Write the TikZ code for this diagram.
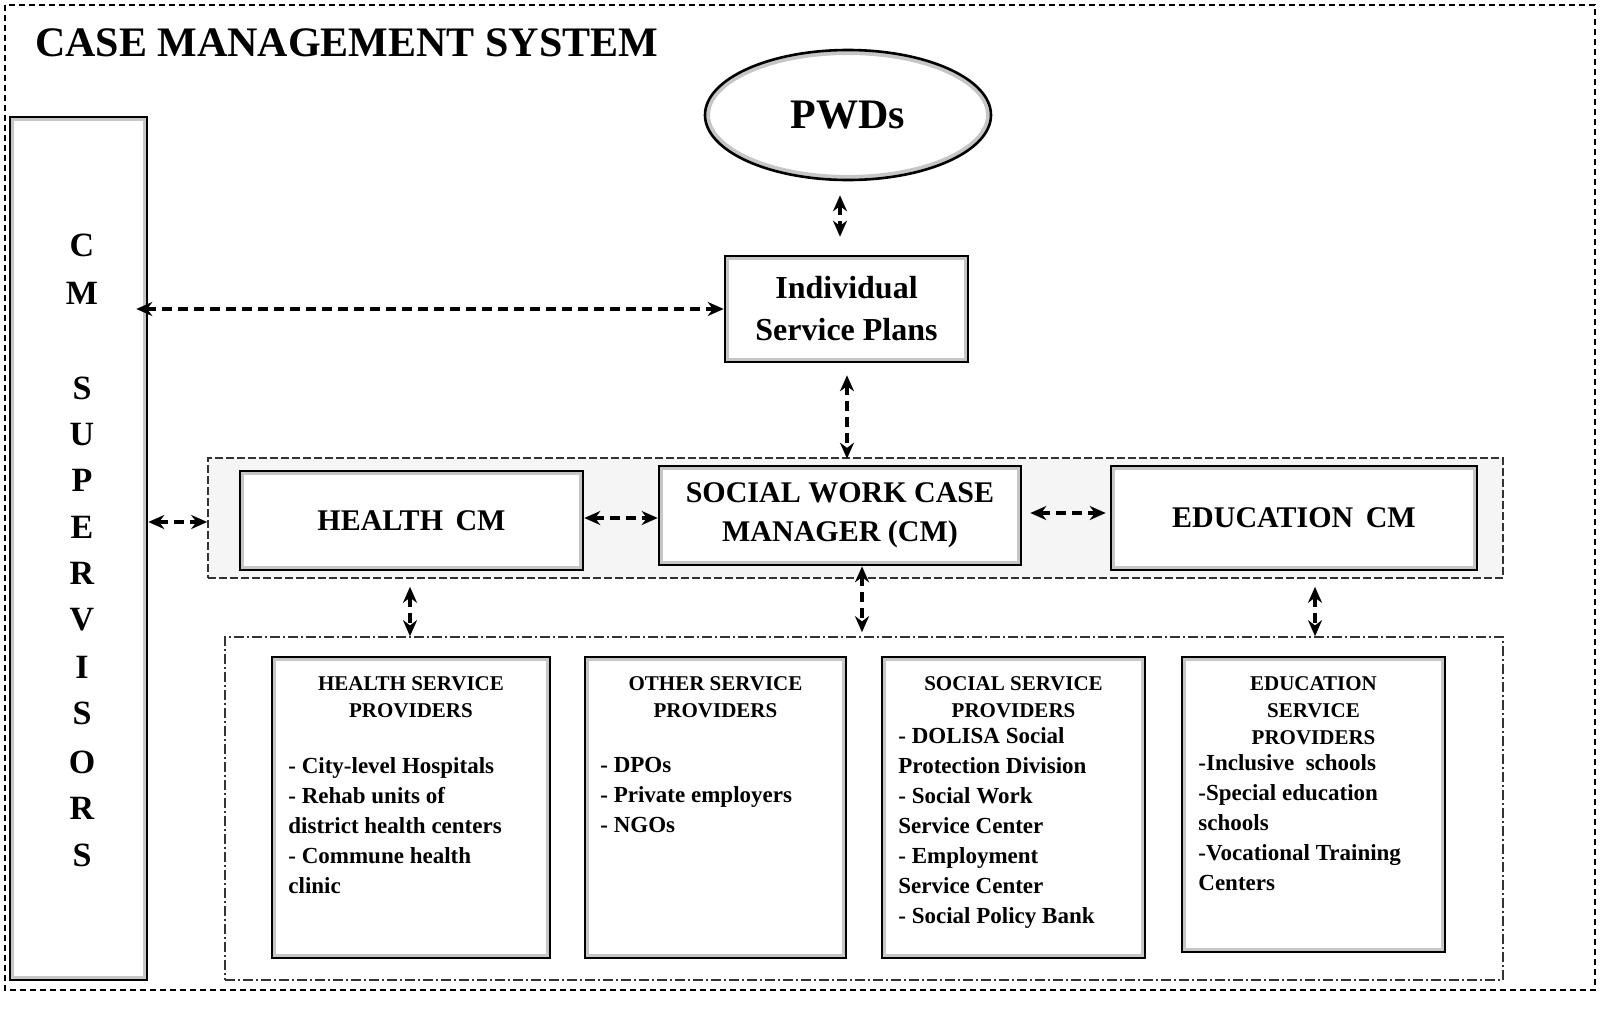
\documentclass[tikz,border=0pt]{standalone}
\usepackage{fontspec}
\setmainfont{Liberation Serif}
\usetikzlibrary{fit,arrows.meta,shapes.geometric}
\begin{document}
\begin{tikzpicture}[x=0.5pt,y=-0.5pt,font=\bfseries,
  box/.style={draw=black,line width=1.3pt,fill=white,inner sep=0pt,
    path picture={\draw[gray!45,line width=4pt] (path picture bounding box.south west) rectangle (path picture bounding box.north east);}},
  grp/.style={draw=black!80,line width=0.8pt,inner sep=0pt},
  arr/.style={line width=1.6pt,dash pattern=on 5pt off 3pt,{Stealth[length=8pt,width=7pt]}-{Stealth[length=8pt,width=7pt]}},
  big/.style={font=\fontsize{15}{18}\selectfont\bfseries,align=center},
  prov/.style={font=\fontsize{11.5}{15}\selectfont\bfseries,align=left,anchor=north west,inner sep=0pt},
  head/.style={font=\fontsize{10.5}{13.5}\selectfont\bfseries,align=center,anchor=north,inner sep=0pt}]
\useasboundingbox (0,0) rectangle (1600,1012);
\draw[line width=0.6pt,dash pattern=on 3pt off 2pt] (5,5) rectangle (1595,990);
\node[anchor=west,font=\fontsize{21}{24}\selectfont\bfseries] (title) at (28,43) {CASE MANAGEMENT SYSTEM};
% groups
\node[grp,dash pattern=on 4pt off 1.5pt,fill=gray!8,fit={(208,458)(1503,578)}] (g1) {};
\node[grp,dash pattern=on 5pt off 1.5pt on 1pt off 1.5pt,fit={(225,637)(1503,980)}] (g2) {};
% supervisors
\node[box,fit={(10,117)(147,980)}] (sup) {};
\foreach \l/\y in {C/245,M/293,S/388,U/435,P/480,E/527,R/573,V/620,I/667,S/713,O/762,R/808,S/855}
  \node[font=\fontsize{17}{20}\selectfont\bfseries] at (82,\y) {\l};
% PWDs
\node[ellipse,draw=black,line width=1.3pt,minimum width=143pt,minimum height=65pt,inner sep=0pt,
  path picture={\draw[gray!45,line width=5pt] (path picture bounding box.center) ellipse [x radius=71.5pt, y radius=32.5pt];},
  font=\fontsize{21}{24}\selectfont\bfseries] (pwd) at (848,115) {PWDs};
\node[box,fit={(725,256)(968,362)}] (isp) {};
\node[font=\fontsize{16}{21}\selectfont\bfseries,align=center] at (isp) {Individual\\Service Plans};
% CMs
\node[box,fit={(240,471)(583,570)}] (hcm) {};
\node[big] at (hcm) {HEALTH\, CM};
\node[box,fit={(659,466)(1021,565)}] (sw) {};
\node[big,font=\fontsize{15}{19.5}\selectfont\bfseries] at (sw) {SOCIAL WORK CASE\\MANAGER (CM)};
\node[box,fit={(1111,466)(1477,570)}] (ecm) {};
\node[big] at (ecm) {EDUCATION\, CM};
% providers
\node[box,fit={(272,657)(550,958)}] (p1) {};
\node[head] at ([yshift=-10pt]p1.north) {HEALTH SERVICE\\PROVIDERS};
\node[prov] at (288,757) {- City-level Hospitals\\- Rehab units of\\district health centers\\- Commune health\\clinic};
\node[box,fit={(585,657)(846,958)}] (p2) {};
\node[head] at ([yshift=-10pt]p2.north) {OTHER SERVICE\\PROVIDERS};
\node[prov] at (600,757) {- DPOs\\- Private employers\\- NGOs};
\node[box,fit={(882,657)(1145,958)}] (p3) {};
\node[head] at ([yshift=-10pt]p3.north) {SOCIAL SERVICE\\PROVIDERS};
\node[prov] at (898,727) {- DOLISA Social\\Protection Division\\- Social Work\\Service Center\\- Employment\\Service Center\\- Social Policy Bank};
\node[box,fit={(1182,657)(1445,952)}] (p4) {};
\node[head] at ([yshift=-10pt]p4.north) {EDUCATION\\SERVICE\\PROVIDERS};
\node[prov] at (1198,754) {-Inclusive\ \ schools\\-Special education\\schools\\-Vocational Training\\Centers};
% arrows
\draw[arr,shorten <=7pt,shorten >=9pt] (pwd.south -| 840,0) -- (isp.north -| 840,0);
\draw[arr,shorten <=-6pt] (sup.east |- isp.west) -- (isp.west);
\draw[arr,shorten <=6pt,shorten >=3pt] (isp.south -| 847,0) -- (sw.north -| 847,0);
\draw[arr] (sup.east |- 0,522) -- (g1.west |- 0,522);
\draw[arr] (hcm.east |- 0,518) -- (sw.west |- 0,518);
\draw[arr,shorten <=4pt,shorten >=2pt] (sw.east |- 0,513) -- (ecm.west |- 0,513);
\draw[arr,shorten <=4pt] (g1.south -| 410,0) -- (g2.north -| 410,0);
\draw[arr,shorten >=2pt] (sw.south -| 862,0) -- (g2.north -| 862,0);
\draw[arr,shorten <=4pt] (g1.south -| 1315,0) -- (g2.north -| 1315,0);
\end{tikzpicture}
\end{document}
